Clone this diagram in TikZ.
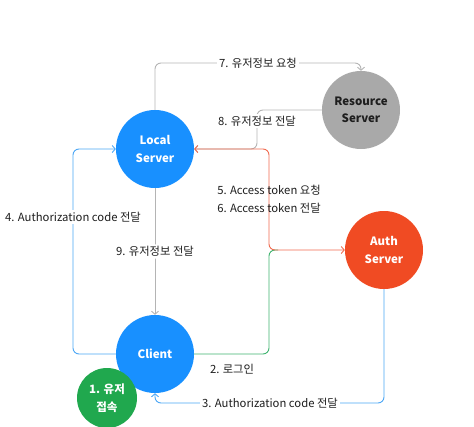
\documentclass[tikz,border=0pt]{standalone}
\usepackage{fontspec}
\setmainfont{Noto Sans CJK KR}
\usepackage{tikz}
\usetikzlibrary{arrows.meta}
\definecolor{srvblue}{HTML}{1890FF}
\definecolor{srvred}{HTML}{F04B23}
\definecolor{srvgray}{HTML}{A9A9A9}
\definecolor{srvgreen}{HTML}{20A84E}
\definecolor{lnblue}{HTML}{4BA6F5}
\definecolor{lnred}{HTML}{F06A4E}
\definecolor{lngray}{HTML}{B4B4B4}
\definecolor{lngreen}{HTML}{3DB36E}
\definecolor{txt}{HTML}{1E1E1E}

\begin{document}
\begin{tikzpicture}[x=1pt,y=-1pt,>={Straight Barb[length=3pt,width=7pt]},
  srv/.style={circle,minimum size=78pt,inner sep=0pt,align=center,text=white,
    font=\fontsize{11.5}{17.5}\selectfont\bfseries},
  lbl/.style={fill=white,inner sep=2pt,text=txt,font=\fontsize{11.3}{13}\selectfont},
  flow/.style={line width=0.9pt,rounded corners=6pt}]
\useasboundingbox (0,0) rectangle (474,426);

\node[srv,fill=srvblue] (local) at (155,149) {Local\\Server};
\node[srv,fill=srvgray,text=txt] (resource) at (361,110) {Resource\\Server};
\node[srv,fill=srvred] (auth) at (384,250) {Auth\\Server};
\node[srv,fill=srvblue] (client) at (155,354) {Client};

% 7, 8
\draw[flow,lngray,->] (local.north) -- (155,63) -| (resource.north)
  node[lbl,pos=0.25] (l7) {7. 유저정보 요청};
\draw[flow,lngray,->] (resource.west) -| (257,149) -- (local.east);
\node[lbl] (l8) at (257,121) {8. 유저정보 전달};

% 2, 5, 6
\draw[flow,lngreen] (client.east) -| (269,250) -- (278,250);
\draw[flow,lnred,<->] (local.east) -| (269,250) -- (auth.west);
\node[lbl,fill=none] (l5) at (269,190) {5. Access token 요청};
\node[lbl,fill=none] (l6) at (269,208) {6. Access token 전달};
\node[lbl] (l2) at (232,369) {2. 로그인};

% 3, 4
\draw[flow,lnblue,->] (auth.south) |- (155,403) -- (client.south);
\node[lbl] (l3) at (270,403) {3. Authorization code 전달};
\draw[flow,lnblue,->] (client.west) -| (73,149) -- (local.west);
\node[lbl] (l4) at (73,217) {4. Authorization code 전달};

% 9
\draw[flow,lngray,->] (local.south) -- (client.north)
  node[lbl,midway] (l9) {9. 유저정보 전달};

\node[srv,fill=srvgreen,minimum size=60pt] (visit) at (107,398) {1. 유저\\접속};
\end{tikzpicture}
\end{document}
